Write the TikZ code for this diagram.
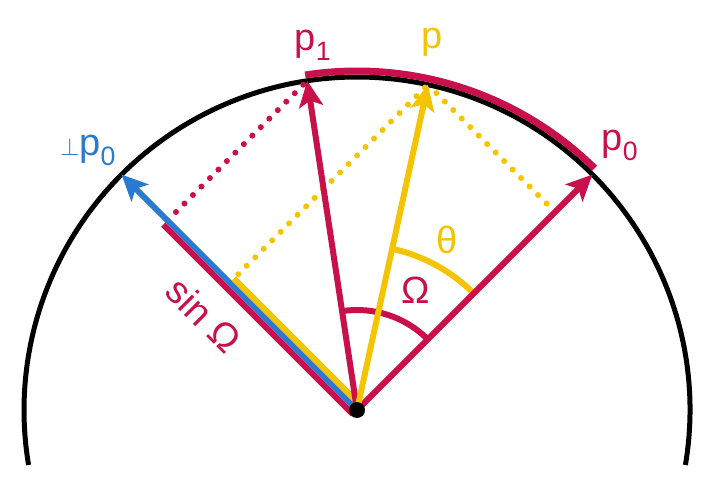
\documentclass[tikz,border=0pt]{standalone}
\usepackage{fontspec}
\setmainfont{Liberation Sans}
\usetikzlibrary{arrows.meta,calc}
\definecolor{myred}{HTML}{C8104A}
\definecolor{myyel}{HTML}{F5C400}
\definecolor{myblue}{HTML}{2A7BD0}
\begin{document}
\begin{tikzpicture}[x=1pt,y=1pt,
  vec/.style={line width=6pt,-{Stealth[length=26pt,width=24pt,inset=6pt]}},
  seg/.style={line width=6pt},
  dots/.style={line width=6pt,dash pattern=on 0pt off 12pt,line cap=round},
  lbl/.style={font=\fontsize{38}{44}\selectfont}]
\useasboundingbox (0,0) rectangle (717,480);
\coordinate (C) at (357,70);
\coordinate (P0) at ($(C)+(45:333)$);
\coordinate (Q) at ($(C)+(135:333)$);
\coordinate (P1) at ($(C)+(98.6:333)$);
\coordinate (P) at ($(C)+(77.7:333)$);
\coordinate (S1) at ($(C)+(135:268)$);
\coordinate (S2) at ($(C)+(135:180)$);
\coordinate (S3) at ($(C)+(45:280)$);
% circle
\draw[line width=5pt] ($(C)+(-9.5:333)$) arc (-9.5:189.5:333);
\draw[line width=7pt,myred] ($(C)+(45.5:339)$) arc (45.5:98.8:339);
% dotted
\draw[dots,myred] (S1) -- (P1);
\draw[dots,myyel] (S2) -- (P);
\draw[dots,myyel] (S3) -- (P);
% angle arcs
\draw[seg,myyel] ($(C)+(45:165)$) arc (45:77.7:165);
\draw[seg,myred] ($(C)+(45:100)$) arc (45:98.6:100);
% sin/blue/yellow along perp
\draw[seg,myred] ($(C)+(225:6)$) -- ($(S1)+(225:6)$);
\draw[vec,myblue] (C) -- (Q);
\draw[seg,myyel] ($(C)+(45:6)$) -- ($(S2)+(45:6)$);
% vectors
\draw[vec,myred] (C) -- (P0);
\draw[vec,myred] (C) -- (P1);
\draw[vec,myyel] (C) -- (P);
\fill (C) circle (8);
% labels
\node[lbl,myred] (l1) at (313,435) {p\textsubscript{1}};
\node[lbl,myyel] (l2) at (432,438) {p};
\node[lbl,myred] (l3) at (620,335) {p\textsubscript{0}};
\node[lbl,myblue] (l4) at (88,330) {$\perp$p\textsubscript{0}};
\node[lbl,myyel] (l5) at (447,240) {θ};
\node[lbl,myred] (l6) at (416,190) {Ω};
\node[lbl,myred,rotate=-45] (l7) at (204,165) {sin Ω};
\end{tikzpicture}
\end{document}
